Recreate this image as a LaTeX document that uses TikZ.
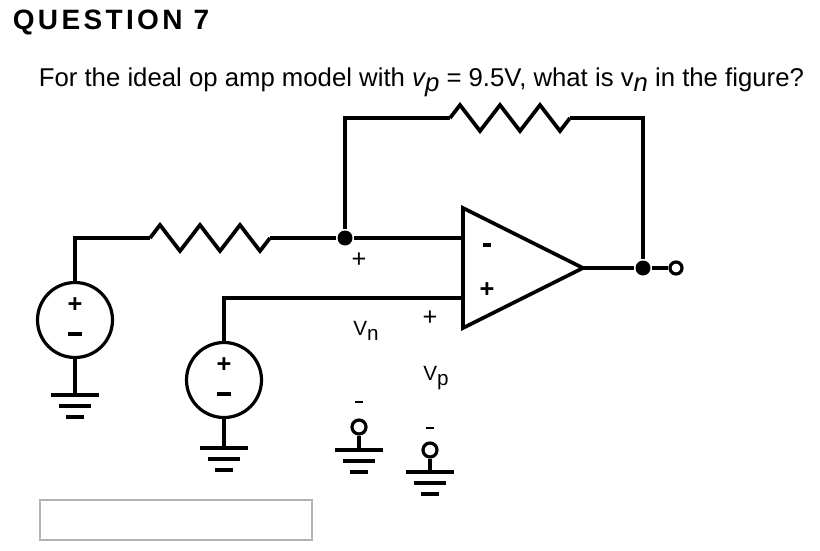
\documentclass[tikz,border=0pt]{standalone}
\usepackage{fontspec}
\setmainfont{Liberation Sans}
\usetikzlibrary{decorations.pathmorphing,calc}
\begin{document}
\begin{tikzpicture}[x=0.75pt,y=-0.75pt,line width=2.8pt,
  wire/.style={line width=2.8pt,line join=miter},
  res/.style={decorate,decoration={zigzag,segment length=40*0.75pt,amplitude=13*0.75pt}},
  src/.style={circle,draw,line width=2.4pt,minimum size=75*0.75pt,inner sep=0pt},
  dot/.style={circle,fill=black,inner sep=0pt,minimum size=15*0.75pt},
  term/.style={circle,draw,fill=white,line width=2.4pt,inner sep=0pt,minimum size=12*0.75pt},
  lbl/.style={font=\fontsize{15.5}{16}\selectfont,inner sep=0pt},
  pm/.style={font=\fontsize{19}{20}\selectfont\bfseries,inner sep=0pt},
  bar/.style={line width=3pt}]
\useasboundingbox (0,0) rectangle (820,550);
% texts
\node[anchor=west,inner sep=0pt,font=\fontsize{21}{22}\selectfont\bfseries\addfontfeature{LetterSpace=12}] (title) at (11,22) {QUESTION 7};
\node[anchor=west,inner sep=0pt,font=\fontsize{19.3}{20}\selectfont] (q) at (37,82) {For the ideal op amp model with \textit{v\raisebox{-0.35ex}{p}} = 9.5V, what is v\raisebox{-0.35ex}{\textit{n}} in the figure?};
% op amp
\coordinate (oa1) at (463,208); \coordinate (oa2) at (463,328); \coordinate (oat) at (583,268);
\draw[wire] (oa1) -- (oat) -- (oa2) -- cycle;
\draw[line width=2.4pt] (483,245) -- (491,245);
\node[pm] (op) at (487,290) {+};
% nodes
\node[dot] (n1) at (345,238) {};
\node[dot] (no) at (643,268) {};
\node[term] (out) at (676,268) {};
\node[src] (s1) at (75,320) {};
\node[src] (s2) at (224,380) {};
\node[pm] at (75,305) {+}; \draw[bar] (68,334) -- (82,334);
\node[pm] at (224,365) {+}; \draw[bar] (217,394) -- (231,394);
% left resistor
\coordinate (a1) at (75,238); \coordinate (r1a) at (150,238); \coordinate (r1b) at (270,238);
\draw[wire] (s1.north) -- (a1) -- (r1a);
\draw[wire,res] (r1a) -- (r1b);
\draw[wire] (r1b) -- (n1) -- (463,238);
% feedback
\coordinate (f1) at (345,118); \coordinate (r2a) at (450,118); \coordinate (r2b) at (570,118); \coordinate (f2) at (643,118);
\draw[wire] (n1) -- (f1) -- (r2a);
\draw[wire,res] (r2a) -- (r2b);
\draw[wire] (r2b) -- (f2) -- (no);
\draw[wire] (oat) -- (no) -- (out);
% second source
\coordinate (b1) at (224,298);
\draw[wire] (s2.north) -- (b1) -- (463,298);
% grounds
\coordinate (g1) at (75,395); \coordinate (g2) at (224,448);
\draw[wire] (s1.south) -- (g1);
\draw[wire] (s2.south) -- (g2);
\foreach \p in {g1,g2}{
  \draw[bar] ($(\p)+(-24,0)$) -- ($(\p)+(24,0)$);
  \draw[bar] ($(\p)+(-16,11)$) -- ($(\p)+(16,11)$);
  \draw[bar] ($(\p)+(-9,22)$) -- ($(\p)+(9,22)$);
}
% terminals
\node[term,minimum size=14*0.75pt] (tn) at (359,427) {};
\coordinate (g3) at (359,450);
\draw[wire] (tn) -- (g3);
\node[term,minimum size=14*0.75pt] (tp) at (430,450) {};
\coordinate (g4) at (430,472);
\draw[wire] (tp) -- (g4);
\foreach \p in {g3,g4}{
  \draw[bar] ($(\p)+(-24,0)$) -- ($(\p)+(24,0)$);
  \draw[bar] ($(\p)+(-16,11)$) -- ($(\p)+(16,11)$);
  \draw[bar] ($(\p)+(-9,22)$) -- ($(\p)+(9,22)$);
}
\node[lbl,font=\fontsize{19}{20}\selectfont] (pn) at (359,260) {+};
\node[lbl] (vn) at (366,331) {V\raisebox{-0.4ex}{n}};
\draw[line width=1.8pt] (355,402) -- (363,402);
\node[lbl,font=\fontsize{19}{20}\selectfont] (pp) at (430,318) {+};
\node[lbl] (vp) at (436,378) {V\raisebox{-0.4ex}{p}};
\draw[line width=1.8pt] (426,428) -- (434,428);
% answer box
\draw[line width=0.8pt,draw=gray!60] (40,500) rectangle (312,540);
\end{tikzpicture}
\end{document}
